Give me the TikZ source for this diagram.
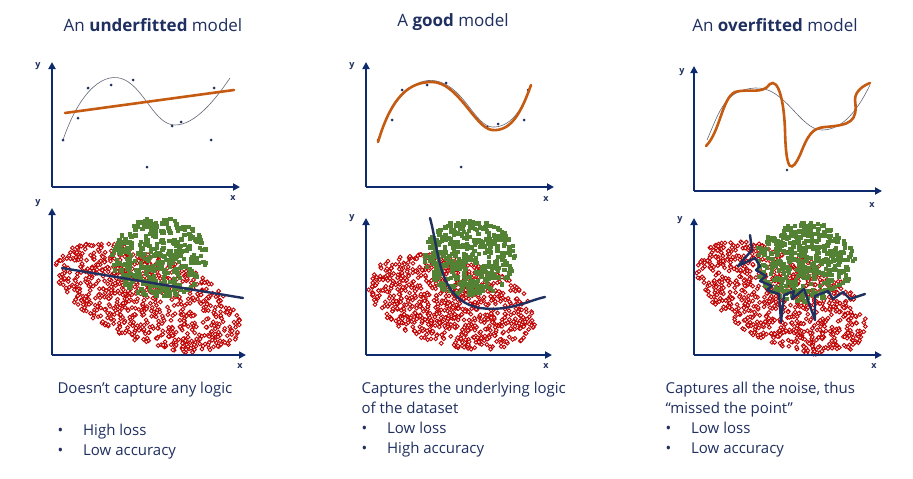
\documentclass[tikz,border=0pt]{standalone}
\usepackage{fontspec}
\setmainfont{Open Sans}
\usetikzlibrary{arrows.meta}
\definecolor{navy}{HTML}{1F2F5F}
\definecolor{axis}{HTML}{0E2A6E}
\definecolor{fitor}{HTML}{C55A11}
\definecolor{ptred}{HTML}{C00000}
\definecolor{ptgreen}{HTML}{548235}
\tikzset{
 ax/.style={draw=axis,line width=2.4pt,-{Triangle[length=7pt,width=7pt]}},
 axlab/.style={font=\fontsize{9}{10}\selectfont\bfseries,text=navy},
 fitline/.style={draw=fitor,line width=2.6pt,line cap=round},
 thin/.style={draw=gray!70!navy,line width=0.6pt},
 dec/.style={draw=navy,line width=2.4pt,line cap=round,line join=round},
 title/.style={font=\fontsize{17}{20}\selectfont,text=navy},
 body/.style={font=\fontsize{15}{20}\selectfont,text=navy,anchor=north west,align=left},
 dot/.style={fill=navy}
}
\newcommand\mycloud[7]{%
 \foreach \k in {1,...,#6}{%
  \pgfmathsetmacro\t{rnd*360}\pgfmathsetmacro\r{sqrt(rnd)}%
  \pgfmathsetmacro\px{#1+\r*(#3*cos(\t)*cos(#5)-#4*sin(\t)*sin(#5))}%
  \pgfmathsetmacro\py{#2+\r*(#3*cos(\t)*sin(#5)+#4*sin(\t)*cos(#5))}%
  #7}}
\newcommand\redpts{\draw[ptred,line width=0.9pt,fill=white] (\px,\py) circle[radius=1.9];}
\newcommand\grnpts{\fill[ptgreen] (\px-2.2,\py-2.2) rectangle (\px+2.2,\py+2.2);}
\begin{document}
\begin{tikzpicture}[x=1pt,y=-1pt]
\pgfmathsetseed{7}
\useasboundingbox[fill=white] (0,0) rectangle (913,479);
% titles
\node[title] (t1) at (153,25) {An \textbf{underfitted} model};
\node[title] (t2) at (453,22) {A \textbf{good} model};
\node[title] (t3) at (775,25) {An \textbf{overfitted} model};
% ---------- top left
\draw[ax] (52,187) -- (52,62);
\draw[ax] (52,187) -- (240,187);
\node[axlab] (y1) at (38,66) {y};
\node[axlab] (x1) at (233,198) {x};
\draw[thin] (63,140) .. controls (80,90) and (105,70) .. (125,80) .. controls (145,90) and (155,125) .. (175,125) .. controls (195,125) and (215,100) .. (230,78);
\foreach \p in {(63,140),(78,118),(88,88),(111,85),(133,80),(147,167),(172,126),(181,122),(211,140),(214,88)} \fill[dot] \p circle[radius=1.5];
\draw[fitline] (65,113) -- (234,90);
% ---------- top middle
\draw[ax] (366,187) -- (366,62);
\draw[ax] (366,187) -- (554,187);
\node[axlab] (y2) at (352,66) {y};
\node[axlab] (x2) at (546,199) {x};
\draw[thin] (378,140) .. controls (395,90) and (420,75) .. (440,82) .. controls (465,90) and (475,125) .. (492,127) .. controls (510,128) and (522,110) .. (530,88);
\foreach \p in {(378,140),(392,120),(402,90),(427,85),(446,83),(461,167),(487,127),(498,124),(524,120),(528,90)} \fill[dot] \p circle[radius=1.5];
\draw[fitline] (378,142) .. controls (392,95) and (410,82) .. (432,82) .. controls (458,82) and (475,128) .. (492,130) .. controls (512,132) and (522,110) .. (531,85);
% ---------- top right
\draw[ax] (694,191) -- (694,66);
\draw[ax] (694,191) -- (882,191);
\node[axlab] (y3) at (682,72) {y};
\node[axlab] (x3) at (872,205) {x};
\draw[thin] (707,140) .. controls (720,110) and (725,90) .. (755,88) .. controls (785,86) and (800,130) .. (822,130) .. controls (845,130) and (860,105) .. (870,85);
\draw[fitline] (706,146) .. controls (720,132) and (722,98) .. (735,92) .. controls (750,88) and (762,95) .. (770,84) .. controls (778,78) and (784,100) .. (785,130) .. controls (786,175) and (792,172) .. (800,155) .. controls (808,135) and (812,128) .. (825,127) .. controls (850,125) and (858,122) .. (855,100) .. controls (855,90) and (865,85) .. (870,83);
\fill[dot] (787,170) circle[radius=1.3];
% ---------- bottom left
\mycloud{148}{298}{98}{44}{22}{850}{\redpts}
\mycloud{160}{258}{48}{40}{0}{380}{\grnpts}
\draw[ax] (52,355) -- (52,208);
\draw[ax] (52,355) -- (246,355);
\node[axlab] (y4) at (38,203) {y};
\node[axlab] (x4) at (240,366) {x};
\draw[dec] (62,268) -- (243,298);
% ---------- bottom middle
\mycloud{452}{302}{86}{44}{15}{850}{\redpts}
\mycloud{470}{258}{46}{38}{0}{380}{\grnpts}
\draw[ax] (366,355) -- (366,218);
\draw[ax] (366,355) -- (552,355);
\node[axlab] (y5) at (352,218) {y};
\node[axlab] (x5) at (546,366) {x};
\draw[dec] (430,218) .. controls (440,255) and (438,300) .. (480,308) .. controls (510,312) and (530,300) .. (545,297);
% ---------- bottom right
\mycloud{782}{298}{92}{46}{25}{880}{\redpts}
\mycloud{805}{262}{50}{40}{0}{400}{\grnpts}
\draw[ax] (694,355) -- (694,218);
\draw[ax] (694,355) -- (882,355);
\node[axlab] (y6) at (680,220) {y};
\node[axlab] (x6) at (874,366) {x};
\draw[dec] (750,235) -- (752,250) -- (738,266) -- (755,258) -- (760,266) -- (756,270) -- (766,276) -- (760,281) -- (772,286) -- (767,290) -- (779,294) -- (781,322) -- (784,295) -- (794,291) -- (792,299) -- (804,289) -- (815,320) -- (815,296) -- (828,291) -- (833,299) -- (843,292) -- (850,299) -- (865,294);
% ---------- texts
\node[body] (b1) at (54,379) {Doesn’t capture any logic};
\node[body] (l1) at (54,421) {\textbullet\hspace{20pt}High loss\\\textbullet\hspace{20pt}Low accuracy};
\node[body] (b2) at (358,379) {Captures the underlying logic\\of the dataset\\\textbullet\hspace{20pt}Low loss\\\textbullet\hspace{20pt}High accuracy};
\node[body] (b3) at (662,379) {Captures all the noise, thus\\“missed the point”\\\textbullet\hspace{20pt}Low loss\\\textbullet\hspace{20pt}Low accuracy};
\end{tikzpicture}
\end{document}
